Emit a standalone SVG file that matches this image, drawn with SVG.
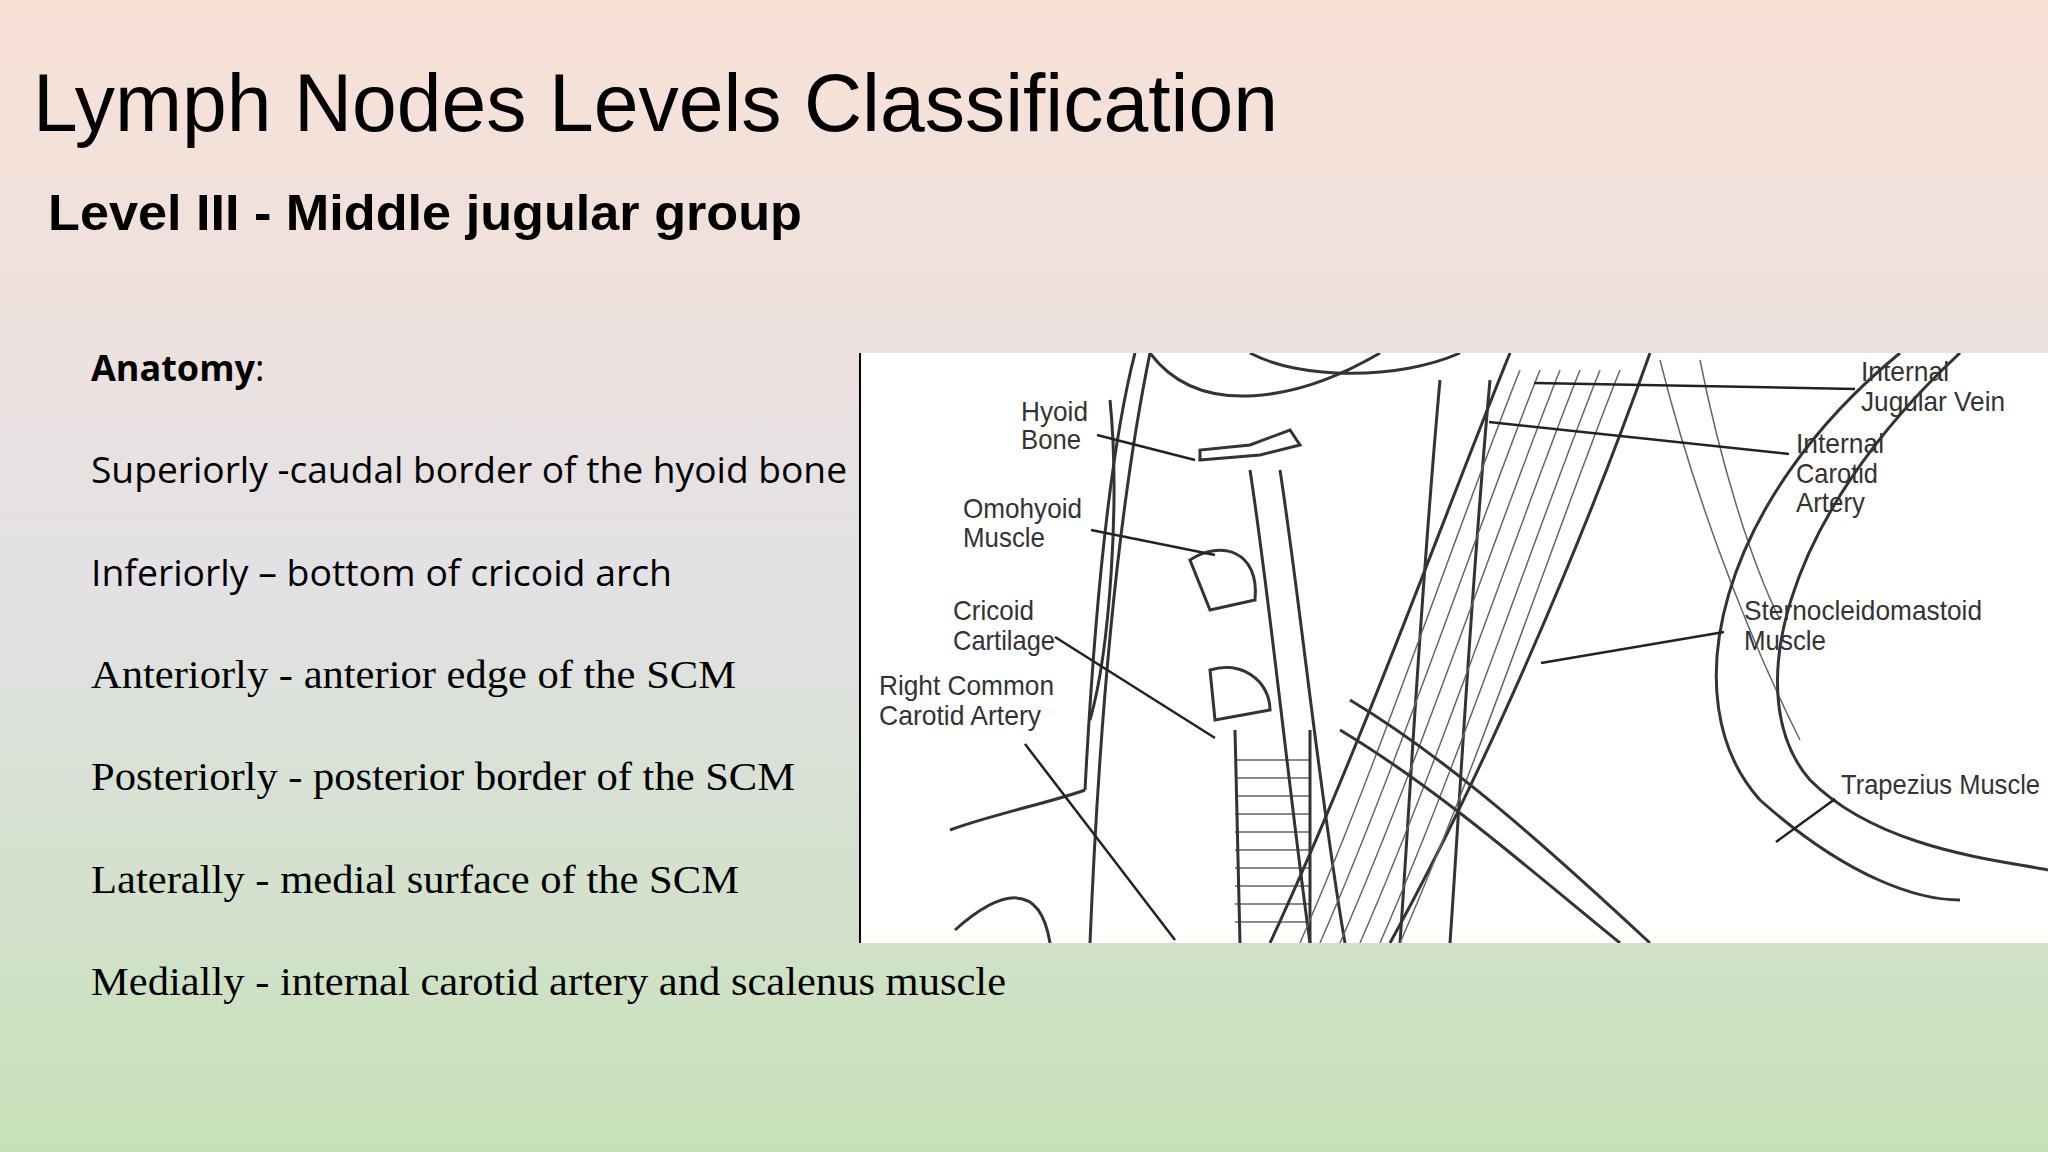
<svg xmlns="http://www.w3.org/2000/svg" width="2048" height="1152" viewBox="0 0 2048 1152">
<defs>
<linearGradient id="bg" x1="0" y1="0" x2="0" y2="1">
<stop offset="0" stop-color="#f9e1d5"/>
<stop offset="0.5" stop-color="#e3e1e5"/>
<stop offset="1" stop-color="#c6e1b8"/>
</linearGradient>
<clipPath id="ic"><rect x="859" y="353" width="1189" height="590"/></clipPath>
</defs>
<style>
.t{font-family:"Liberation Sans","Open Sans",sans-serif;fill:#000}
.s{font-family:"Liberation Serif",serif;fill:#000;font-size:40px}
.b{font-family:"Open Sans","Liberation Sans",sans-serif;fill:#000;font-size:36px}
.l{font-family:"Liberation Sans",sans-serif;fill:#333;font-size:28px}
.ld{stroke:#222;stroke-width:2.5;fill:none}
.a{stroke:#333;fill:none;stroke-width:3}
.f{stroke:#666;fill:none;stroke-width:1.5}
</style>
<rect width="2048" height="1152" fill="url(#bg)"/>
<text class="t" x="33" y="131" font-size="82" textLength="1245" lengthAdjust="spacingAndGlyphs">Lymph Nodes Levels Classification</text>
<text class="t" x="48" y="230" font-size="50" font-weight="bold" textLength="754" lengthAdjust="spacingAndGlyphs">Level III - Middle jugular group</text>
<text class="b" x="91" y="381"><tspan font-weight="bold">Anatomy</tspan>:</text>
<text class="b" x="91" y="483" textLength="756" lengthAdjust="spacingAndGlyphs">Superiorly -caudal border of the hyoid bone</text>
<text class="b" x="91" y="586" textLength="581" lengthAdjust="spacingAndGlyphs">Inferiorly – bottom of cricoid arch</text>
<text class="s" x="91" y="688" textLength="645" lengthAdjust="spacingAndGlyphs">Anteriorly - anterior edge of the SCM</text>
<text class="s" x="91" y="790" textLength="704" lengthAdjust="spacingAndGlyphs">Posteriorly - posterior border of the SCM</text>
<text class="s" x="91" y="893" textLength="648" lengthAdjust="spacingAndGlyphs">Laterally - medial surface of the SCM</text>
<text class="s" x="91" y="995" textLength="915" lengthAdjust="spacingAndGlyphs">Medially - internal carotid artery and scalenus muscle</text>
<rect x="859" y="353" width="1189" height="590" fill="#fff"/>
<line x1="860" y1="353" x2="860" y2="943" stroke="#000" stroke-width="2"/>
<g clip-path="url(#ic)">
<path class="a" d="M1135 353 C1110 450 1095 600 1085 790 M1085 790 C1060 800 990 815 950 830"/>
<path class="a" d="M1150 353 C1120 500 1100 700 1090 943"/>
<path class="a" d="M1200 460 L1260 455 L1300 445 L1290 430 L1250 445 L1200 450 Z"/>
<path class="a" d="M1190 560 C1220 540 1260 550 1255 600 L1210 610 Z"/>
<path class="a" d="M1210 670 C1240 660 1270 680 1270 710 L1215 720 Z"/>
<g class="f">
<path d="M1235 760 h75 M1235 778 h75 M1235 796 h75 M1235 814 h75 M1235 832 h75 M1235 850 h75 M1235 868 h75 M1235 886 h75 M1235 904 h75 M1235 922 h75"/>
</g>
<path class="a" d="M1235 730 L1240 943 M1310 730 L1310 943"/>
<path class="a" d="M1250 470 C1270 600 1290 800 1310 943 M1280 470 C1300 600 1320 800 1345 943"/>
<path class="a" d="M1510 353 C1450 500 1360 750 1270 943 M1650 353 C1580 550 1480 780 1390 943"/>
<path class="a" d="M1440 380 C1420 600 1410 800 1400 943 M1490 380 C1470 600 1460 800 1450 943"/>
<g class="f">
<path d="M1520 370 C1460 520 1380 760 1300 943 M1540 370 C1480 520 1400 760 1320 943 M1560 370 C1500 520 1420 760 1340 943 M1580 370 C1520 520 1440 760 1360 943 M1600 370 C1540 520 1460 760 1380 943 M1620 370 C1560 520 1480 760 1400 943"/>
<path d="M1660 360 C1690 480 1740 620 1800 740 M1700 360 C1720 460 1750 560 1780 620"/>
</g>
<path class="a" d="M1350 700 C1450 760 1550 850 1650 943 M1340 730 C1440 790 1530 870 1620 943"/>
<path class="a" d="M1900 353 C1720 500 1670 700 1760 800 C1850 880 1920 900 1960 900"/>
<path class="a" d="M1960 353 C1780 520 1740 700 1810 780 C1880 850 2000 860 2048 870"/>
<path class="a" d="M1150 353 C1200 420 1300 400 1380 353 M1250 353 C1300 380 1400 380 1460 353"/>
<path class="a" d="M1110 400 C1120 500 1110 650 1090 720 M955 930 C1000 890 1040 880 1050 943"/>
</g>
<g class="ld">
<line x1="1097" y1="435" x2="1195" y2="460"/>
<line x1="1091" y1="530" x2="1215" y2="555"/>
<line x1="1055" y1="637" x2="1215" y2="738"/>
<line x1="1025" y1="744" x2="1175" y2="940"/>
<line x1="1724" y1="632" x2="1541" y2="663"/>
<line x1="1855" y1="389" x2="1534" y2="383"/>
<line x1="1789" y1="454" x2="1489" y2="422"/>
<line x1="1835" y1="799" x2="1776" y2="842"/>
</g>
<g class="l" lengthAdjust="spacingAndGlyphs">
<text x="1861" y="381" textLength="88" lengthAdjust="spacingAndGlyphs">Internal</text><text x="1861" y="411" textLength="144" lengthAdjust="spacingAndGlyphs">Jugular Vein</text>
<text x="1796" y="453" textLength="88" lengthAdjust="spacingAndGlyphs">Internal</text><text x="1796" y="483" textLength="82" lengthAdjust="spacingAndGlyphs">Carotid</text><text x="1796" y="512" textLength="69" lengthAdjust="spacingAndGlyphs">Artery</text>
<text x="1021" y="421" textLength="67" lengthAdjust="spacingAndGlyphs">Hyoid</text><text x="1021" y="449" textLength="60" lengthAdjust="spacingAndGlyphs">Bone</text>
<text x="963" y="518" textLength="119" lengthAdjust="spacingAndGlyphs">Omohyoid</text><text x="963" y="547" textLength="82" lengthAdjust="spacingAndGlyphs">Muscle</text>
<text x="953" y="620" textLength="81" lengthAdjust="spacingAndGlyphs">Cricoid</text><text x="953" y="650" textLength="102" lengthAdjust="spacingAndGlyphs">Cartilage</text>
<text x="879" y="695" textLength="175" lengthAdjust="spacingAndGlyphs">Right Common</text><text x="879" y="725" textLength="162" lengthAdjust="spacingAndGlyphs">Carotid Artery</text>
<text x="1744" y="620" textLength="238" lengthAdjust="spacingAndGlyphs">Sternocleidomastoid</text><text x="1744" y="650" textLength="82" lengthAdjust="spacingAndGlyphs">Muscle</text>
<text x="1841" y="794" textLength="199" lengthAdjust="spacingAndGlyphs">Trapezius Muscle</text>
</g>
</svg>
